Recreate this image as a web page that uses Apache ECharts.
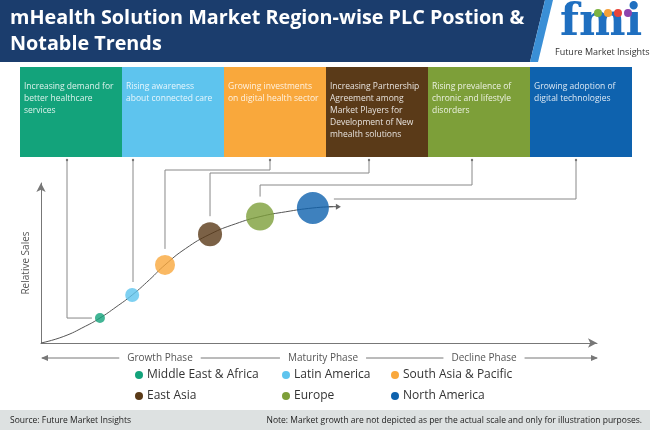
<!DOCTYPE html>
<html><head><meta charset="utf-8">
<script src="https://cdn.jsdelivr.net/npm/echarts@6/dist/echarts.min.js"></script>
<style>html,body{margin:0;padding:0;background:#fff}#c{width:650px;height:430px}</style>
</head><body><div id="c"></div>
<script>
const regions = ['Middle East & Africa','Latin America','South Asia & Pacific','East Asia','Europe','North America'];
const regionColors = ['#13a37b','#5ec4ee','#f9a83c','#5a3a18','#7d9f39','#0e62ae'];
const plcX = [10.6,16.4,22.3,30.4,39.4,48.9];
const plcY = [15.6,30,48.8,68,79,84.4];
const bubbleSize = [10,14,20,24,28,32];
const curveX = [0,4,8,10.6,13.5,16.4,19.5,22.3,26,30.4,35,39.4,44,48.9,52.5];
const curveY = [0,4,10.5,15.6,22.5,30,39.5,48.8,59,68,74.5,79,82,84.4,85.2];
const trends = ['Increasing demand for\nbetter healthcare\nservices','Rising awareness\nabout connected care','Growing investments\non digital health sector','Increasing Partnership\nAgreement among\nMarket Players for\nDevelopment of New\nmhealth solutions','Rising prevalence of\nchronic and lifestyle\ndisorders','Growing adoption of\ndigital technologies'];
const phases = ['Growth Phase','Maturity Phase','Decline Phase'];

const chart = echarts.init(document.getElementById('c'));
const F = '"Open Sans", "Liberation Sans", sans-serif';
const g = [];
g.push({type:'polygon',shape:{points:[[0,0],[545,0],[530,62],[0,62]]},style:{fill:'#1b3d6d'},z:1});
g.push({type:'polygon',shape:{points:[[545,0],[553,0],[538,62],[530,62]]},style:{fill:'#3a8fd6'},z:1});
g.push({type:'text',left:10,top:5,style:{text:'mHealth Solution Market Region-wise PLC Postion &\nNotable Trends',fill:'#fff',font:'bold 19.8px '+F,lineHeight:26},z:2});
g.push({type:'text',left:560,top:2,style:{text:'fmi',fill:'#1f6fc0',font:'bold 44px "DejaVu Serif", serif'},z:2});
['#7cb342','#f4a13a','#e8443a','#8e44ad'].forEach((c,i)=>g.push({type:'circle',shape:{cx:598+i*10,cy:13,r:4},style:{fill:c},z:3}));
g.push({type:'text',left:555,top:48,style:{text:'Future Market Insights',fill:'#333',font:'9px '+F},z:2});
trends.forEach((t,i)=>{
  const x=20+i*102;
  g.push({type:'rect',shape:{x:x,y:67,width:102,height:90},style:{fill:regionColors[i]},z:1});
  g.push({type:'text',left:x+4,top:81,style:{text:t,fill:'rgba(255,255,255,0.85)',font:'8.5px '+F,lineHeight:12},z:2});
});
g.push({type:'line',shape:{x1:42,y1:358,x2:597,y2:358},style:{stroke:'#777',lineWidth:1},z:1});
g.push({type:'polygon',shape:{points:[[41,358],[48,355],[48,361]]},style:{fill:'#777'},z:1});
g.push({type:'polygon',shape:{points:[[598,358],[591,355],[591,361]]},style:{fill:'#777'},z:1});
[160,323,484].forEach((x,i)=>g.push({type:'text',x:x,y:358,style:{text:phases[i],fill:'#555',font:'10px '+F,align:'center',verticalAlign:'middle',backgroundColor:'#fff',padding:[0,8]},z:2}));
const lx=[139,286,395];
regions.forEach((r,i)=>{
  const x=lx[i%3], y=i<3?375:396;
  g.push({type:'circle',shape:{cx:x,cy:y,r:4},style:{fill:regionColors[i]},z:2});
  g.push({type:'text',x:x+8,y:y,style:{text:r,fill:'#333',font:'12px '+F,verticalAlign:'middle'},z:2});
});
g.push({type:'rect',shape:{x:0,y:410,width:650,height:20},style:{fill:'#dde1e1'},z:1});
g.push({type:'text',x:10,y:421,style:{text:'Source: Future Market Insights',fill:'#222',font:'8.5px '+F,verticalAlign:'middle'},z:2});
g.push({type:'text',x:642,y:421,style:{text:'Note: Market growth are not depicted as per the actual scale and only for illustration purposes.',fill:'#222',font:'8.5px '+F,verticalAlign:'middle',align:'right'},z:2});

chart.setOption({
  animation:false,
  grid:{left:41,right:53,top:183,bottom:87},
  xAxis:{type:'value',min:0,max:100,axisLine:{lineStyle:{color:'#777'},symbol:['none','arrow'],symbolSize:[7,9]},axisTick:{show:false},axisLabel:{show:false},splitLine:{show:false}},
  yAxis:{type:'value',min:0,max:100,name:'Relative Sales',nameLocation:'middle',nameGap:10,nameTextStyle:{color:'#555',fontSize:10,fontFamily:F},axisLine:{show:true,lineStyle:{color:'#777'},symbol:['none','arrow'],symbolSize:[7,9]},axisTick:{show:false},axisLabel:{show:false},splitLine:{show:false}},
  graphic:g,
  series:[
    {type:'line',data:curveX.map((x,i)=>[x,curveY[i]]),smooth:true,symbol:'none',lineStyle:{color:'#555',width:1},z:2},
    {type:'scatter',data:plcX.map((x,i)=>({value:[x,plcY[i]],symbolSize:bubbleSize[i],itemStyle:{color:regionColors[i]}})),z:3}
  ]
});
const P = plcX.map((x,i)=>chart.convertToPixel({gridIndex:0},[x,plcY[i]]));
const endP = chart.convertToPixel({gridIndex:0},[curveX[curveX.length-1],curveY[curveY.length-1]]);
const boxX=[67,133,270,369,472,576], elbowY=[0,0,170,173,185,199];
const cg=[];
const st={stroke:'#888',lineWidth:1,fill:null};
function tri(x,y){cg.push({type:'polygon',shape:{points:[[x,y],[x-5,y-3],[x-5,y+3]]},style:{fill:'#666'},z:5});}
cg.push({type:'polyline',shape:{points:[[boxX[0],160],[boxX[0],P[0][1]],[P[0][0]-8,P[0][1]]]},style:st,z:4});
cg.push({type:'polyline',shape:{points:[[boxX[1],160],[boxX[1],P[1][1]-13]]},style:st,z:4});
for(let i=2;i<5;i++){
  const ty=P[i][1]-bubbleSize[i]/2-6;
  cg.push({type:'polyline',shape:{points:[[boxX[i],160],[boxX[i],elbowY[i]],[P[i][0],elbowY[i]],[P[i][0],ty]]},style:st,z:4});
}
cg.push({type:'polyline',shape:{points:[[boxX[5],160],[boxX[5],elbowY[5]],[P[5][0]+21,elbowY[5]]]},style:st,z:4});
cg.push({type:'line',shape:{x1:P[5][0]+bubbleSize[5]/2,y1:endP[1],x2:endP[0]+4,y2:endP[1]},style:{stroke:'#555',lineWidth:1},z:4});
tri(endP[0]+8,endP[1]);
boxX.forEach(x=>cg.push({type:'circle',shape:{cx:x,cy:160,r:1.2},style:{fill:'#777'},z:5}));
chart.setOption({graphic:g.concat(cg)});
</script></body></html>
